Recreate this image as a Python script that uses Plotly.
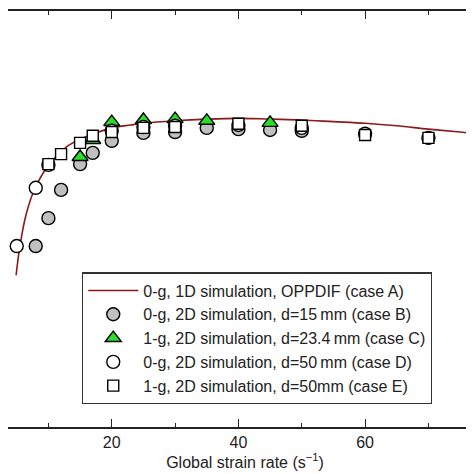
import plotly.graph_objects as go

# ---- data (y in normalized units; the y scale is cropped out) ----
a_x = [4.9, 5.5, 6.5, 7.9, 9.0, 10.0, 11.5, 13.0, 15.0, 17.0, 20.0, 23.0, 25.0, 30.0,
       35.0, 40.0, 45.0, 50.0, 55.0, 60.0, 65.0, 70.0, 75.0, 78.5]
a_y = [0.365, 0.435, 0.512, 0.575, 0.606, 0.630, 0.654, 0.675, 0.692, 0.704, 0.719,
       0.726, 0.730, 0.736, 0.740, 0.742, 0.740, 0.738, 0.734, 0.730, 0.724, 0.716,
       0.709, 0.703]

b_x = [8, 10, 12, 15, 17, 20, 25, 30, 35, 40, 45, 50]
b_y = [0.435, 0.502, 0.570, 0.632, 0.659, 0.688, 0.707, 0.709, 0.719, 0.716, 0.714, 0.712]

c_x = [15, 17, 20, 25, 30, 35, 45]
c_y = [0.649, 0.690, 0.733, 0.738, 0.740, 0.736, 0.731]

d_x = [5, 8, 10, 20, 25, 30, 40, 50, 60, 70]
d_y = [0.435, 0.575, 0.630, 0.712, 0.721, 0.724, 0.726, 0.719, 0.705, 0.695]

e_x = [10, 12, 15, 17, 20, 25, 30, 40, 50, 60, 70]
e_y = [0.632, 0.656, 0.683, 0.700, 0.709, 0.719, 0.721, 0.729, 0.724, 0.702, 0.695]

names = [
    "0-g, 1D simulation, OPPDIF (case A)",
    "0-g, 2D simulation, d=15\u2009mm (case B)",
    "1-g, 2D simulation, d=23.4\u2009mm (case C)",
    "0-g, 2D simulation, d=50\u2009mm (case D)",
    "1-g, 2D simulation, d=50mm (case E)",
]

FONT = "Liberation Sans, Arial, Helvetica, sans-serif"

fig = go.Figure()
fig.add_trace(go.Scatter(x=a_x, y=a_y, mode="lines", name=names[0],
                         line=dict(color="#8b1a1a", width=1.6, shape="spline")))
fig.add_trace(go.Scatter(x=b_x, y=b_y, mode="markers", name=names[1],
                         marker=dict(symbol="circle", size=13, color="#c0c0c0",
                                     line=dict(color="black", width=1.4))))
fig.add_trace(go.Scatter(x=c_x, y=c_y, mode="markers", name=names[2],
                         marker=dict(symbol="triangle-up", size=14, color="#2bdc2b",
                                     line=dict(color="black", width=1.4))))
fig.add_trace(go.Scatter(x=d_x, y=d_y, mode="markers", name=names[3],
                         marker=dict(symbol="circle", size=13, color="white",
                                     line=dict(color="black", width=1.4))))
fig.add_trace(go.Scatter(x=e_x, y=e_y, mode="markers", name=names[4],
                         marker=dict(symbol="square", size=11, color="white",
                                     line=dict(color="black", width=1.4))))

fig.update_layout(
    width=474, height=474,
    margin=dict(l=0, r=0, t=3, b=55),
    paper_bgcolor="white", plot_bgcolor="white",
    font=dict(family=FONT, size=16, color="#222"),
    showlegend=True,
    legend=dict(x=0.156, y=0.372, xanchor="left", yanchor="top",
                bgcolor="white", bordercolor="#333", borderwidth=1.3,
                font=dict(family=FONT, size=16, color="#222"),
                itemwidth=50, tracegroupgap=0),
    xaxis=dict(range=[3.62, 78.46], tickmode="linear", tick0=0, dtick=20,
               ticks="inside", ticklen=8, tickwidth=1.3, tickcolor="#222",
               showline=True, linecolor="#222", linewidth=1.5, mirror="ticks",
               showgrid=False, zeroline=False,
               minor=dict(tickmode="linear", tick0=0, dtick=10, ticks="inside",
                          ticklen=4, tickwidth=1.2, tickcolor="#222", showgrid=False),
               title=dict(text="Global strain rate (s<sup>\u22121</sup>)",
                          font=dict(size=16), standoff=4),
               tickfont=dict(size=16)),
    yaxis=dict(range=[0.0, 1.0], showline=False, showticklabels=False, ticks="",
               showgrid=False, zeroline=False),
)

fig.write_html("out.html")
